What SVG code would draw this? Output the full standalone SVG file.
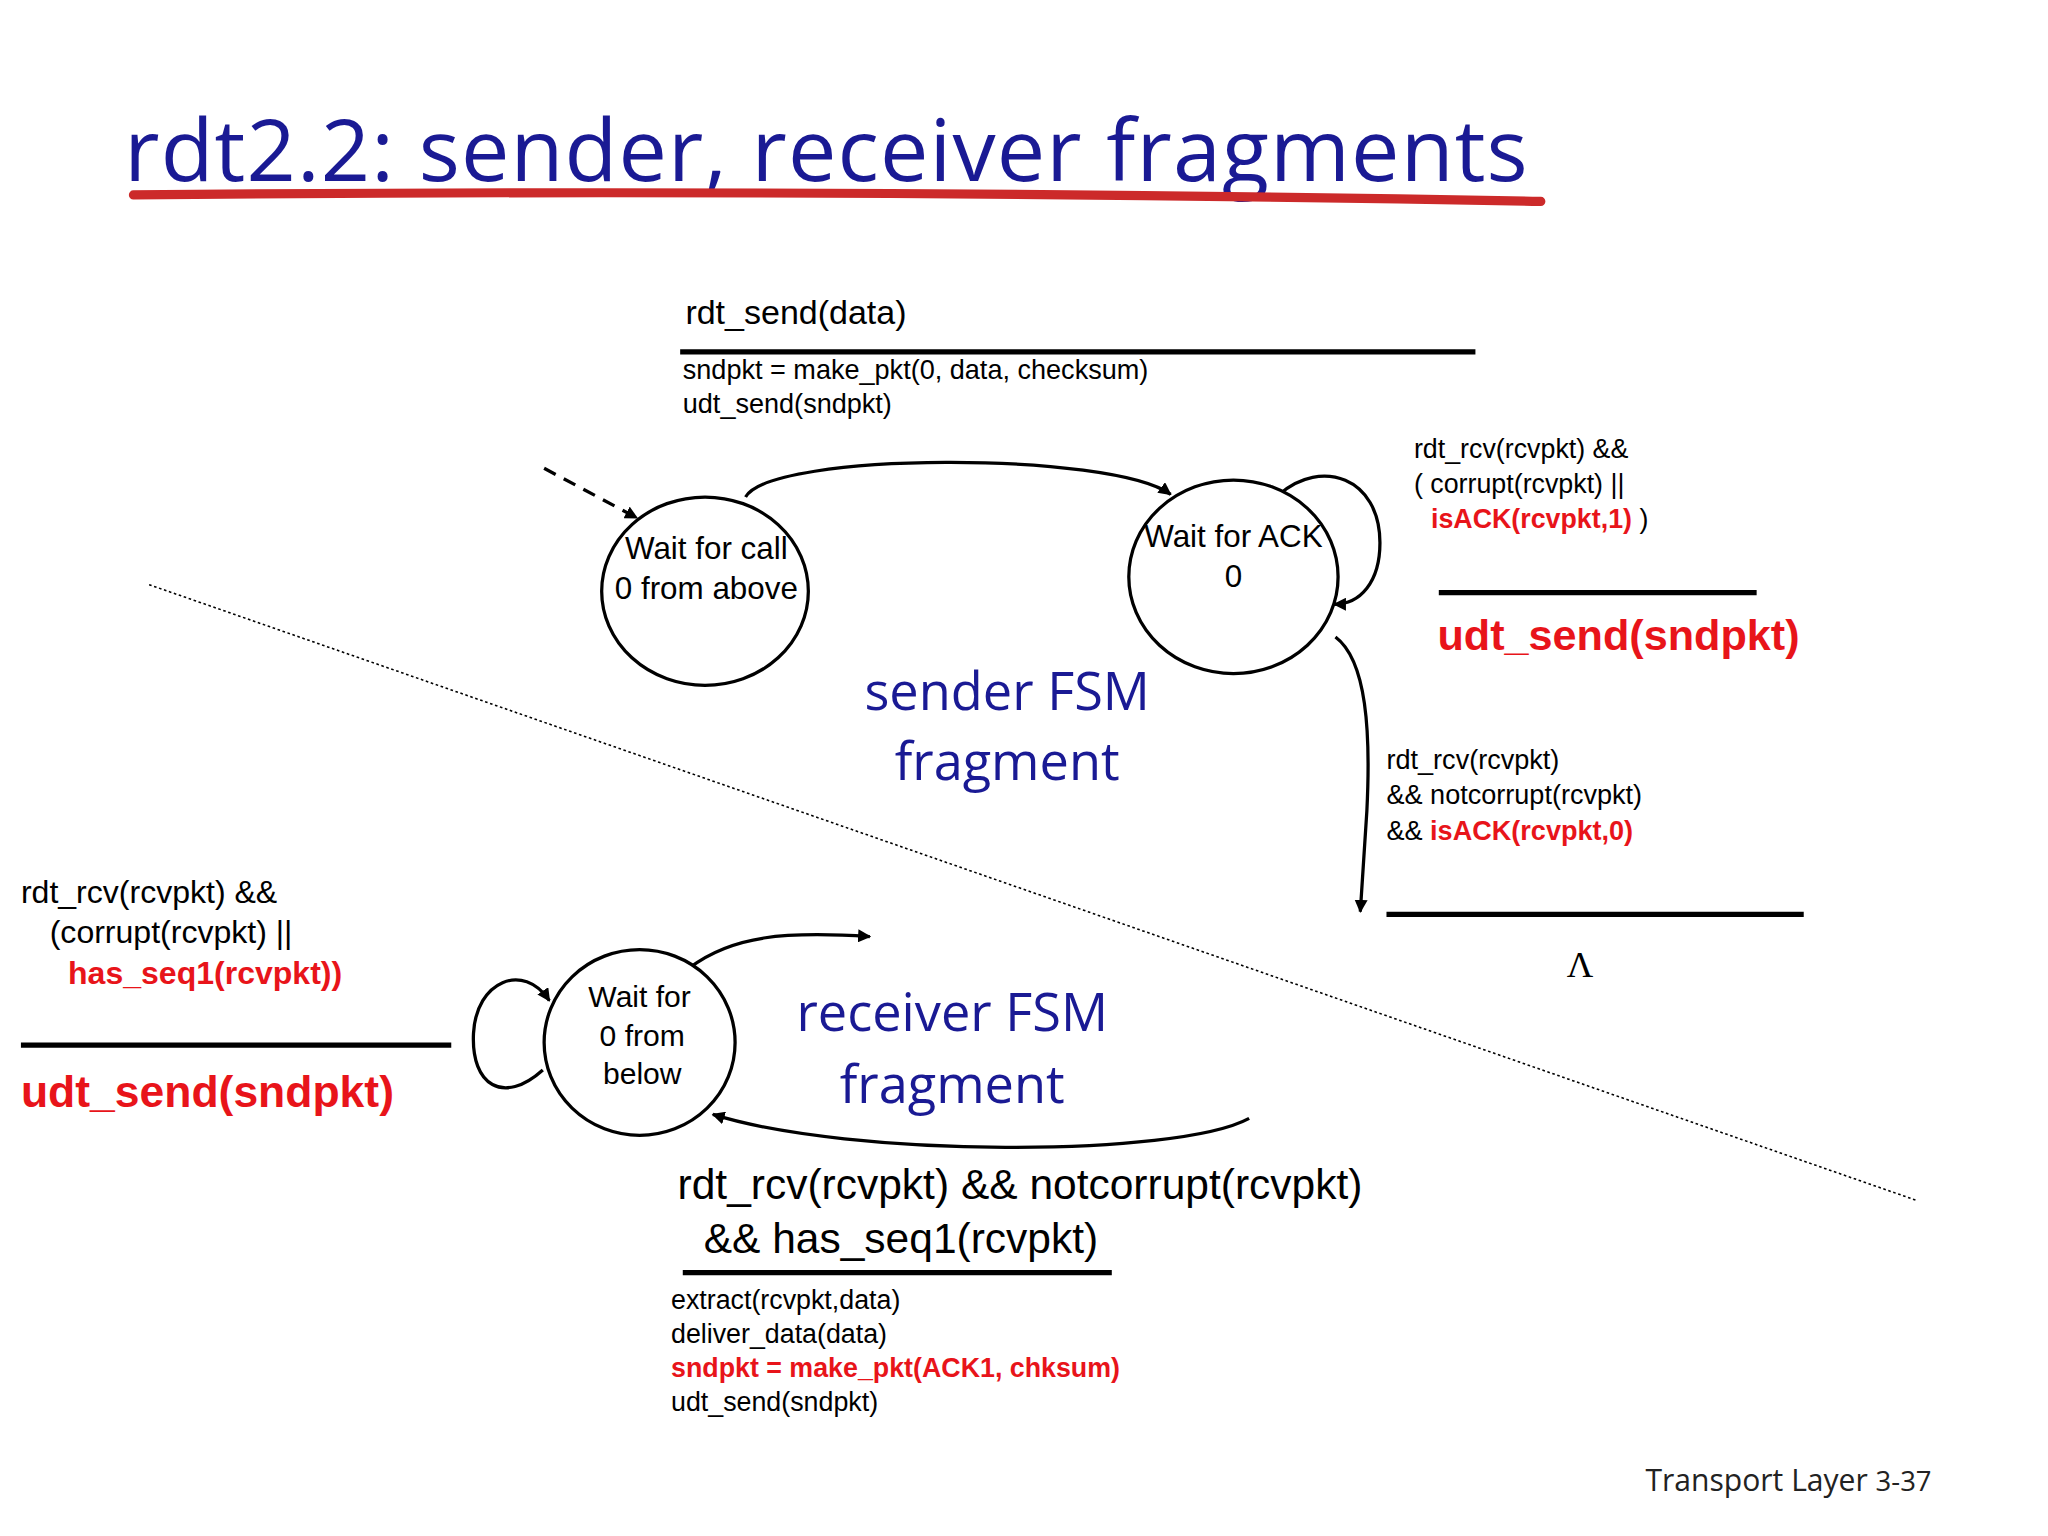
<svg xmlns="http://www.w3.org/2000/svg" width="2048" height="1536" viewBox="0 0 2048 1536">
<defs>
<marker id="ah" markerWidth="10" markerHeight="10" refX="9" refY="5" orient="auto" markerUnits="userSpaceOnUse"><path d="M0,0 L10,5 L0,10 z" fill="#000"/></marker>
<style>
.t{font-family:"Liberation Sans",Arial,sans-serif;fill:#000}
.r{fill:#e8141a;font-weight:bold}
.b{font-family:"Open Sans","Noto Sans",sans-serif;fill:#1a1a94}
.st{fill:#fff;stroke:#000;stroke-width:2.5}
.bar{stroke:#000;stroke-width:4}
.c{fill:none;stroke:#000;stroke-width:2.5}
</style>
</defs>
<rect width="2048" height="1536" fill="#fff"/>
<g transform="scale(1.308)">
<g id="title">
<text class="b" x="95" y="138" font-size="66" textLength="1073">rdt2.2: sender, receiver fragments</text>
<path d="M102,149 Q640,144 1178,154" stroke="#cc2a2a" stroke-width="7" fill="none" stroke-linecap="round"/>
</g>
<line x1="114" y1="447" x2="1466" y2="918" stroke="#000" stroke-width="1.2" stroke-dasharray="2,2"/>
<g id="connectors">
<line x1="416" y1="358" x2="487" y2="396" class="c" stroke-dasharray="10,7" marker-end="url(#ah)"/>
<path d="M570,380 C590,345 850,345 895,378" class="c" marker-end="url(#ah)"/>
<path d="M978,378 C1010,350 1055,365 1055,415 C1055,445 1040,462 1020,462" class="c" marker-end="url(#ah)"/>
<path d="M1021,487 C1045,505 1048,560 1045,620 L1040,697" class="c" marker-end="url(#ah)"/>
<path d="M415,818 C385,845 360,830 362,790 C364,750 400,735 420,765" class="c" marker-end="url(#ah)"/>
<path d="M527,740 C560,715 600,712 665,716" class="c" marker-end="url(#ah)"/>
<path d="M955,855 C900,885 650,885 545,852" class="c" marker-end="url(#ah)"/>
</g>
<g id="s1"><ellipse class="st" cx="539" cy="452" rx="79" ry="72"/>
<text class="t" x="540" y="427" font-size="24" text-anchor="middle">Wait for call</text>
<text class="t" x="540" y="458" font-size="24" text-anchor="middle">0 from above</text></g>
<g id="s2"><ellipse class="st" cx="943" cy="441" rx="80" ry="74"/>
<text class="t" x="943" y="418" font-size="24" text-anchor="middle">Wait for ACK</text>
<text class="t" x="943" y="449" font-size="24" text-anchor="middle">0</text></g>
<g id="s3"><ellipse class="st" cx="489" cy="797" rx="73" ry="71"/>
<text class="t" x="489" y="770" font-size="23" text-anchor="middle">Wait for</text>
<text class="t" x="491" y="800" font-size="23" text-anchor="middle">0 from</text>
<text class="t" x="491" y="829" font-size="23" text-anchor="middle">below</text></g>
<g id="labels">
<text class="t" x="524" y="248" font-size="26">rdt_send(data)</text>
<line class="bar" x1="520" y1="269" x2="1128" y2="269"/>
<text class="t" x="522" y="290" font-size="20.7">sndpkt = make_pkt(0, data, checksum)</text>
<text class="t" x="522" y="316" font-size="20.7">udt_send(sndpkt)</text>
<text class="t" x="1081" y="350" font-size="20.5">rdt_rcv(rcvpkt) &amp;&amp;</text>
<text class="t" x="1081" y="377" font-size="20.5">( corrupt(rcvpkt) ||</text>
<text class="t" x="1094" y="404" font-size="20.5"><tspan class="r">isACK(rcvpkt,1)</tspan> )</text>
<line class="bar" x1="1100" y1="453" x2="1343" y2="453"/>
<text class="t r" x="1099" y="497" font-size="33">udt_send(sndpkt)</text>
<text class="t" x="1060" y="588" font-size="20.7">rdt_rcv(rcvpkt)</text>
<text class="t" x="1060" y="615" font-size="20.7">&amp;&amp; notcorrupt(rcvpkt)</text>
<text class="t" x="1060" y="642" font-size="20.7">&amp;&amp; <tspan class="r">isACK(rcvpkt,0)</tspan></text>
<line class="bar" x1="1060" y1="699" x2="1379" y2="699"/>
<text x="1208" y="747" font-size="28" text-anchor="middle" font-family="Liberation Serif,serif">Λ</text>
<text class="b" x="770" y="543" font-size="40" text-anchor="middle">sender FSM</text>
<text class="b" x="770" y="596" font-size="40" text-anchor="middle">fragment</text>
<text class="b" x="728" y="788" font-size="40" text-anchor="middle">receiver FSM</text>
<text class="b" x="728" y="843" font-size="40" text-anchor="middle">fragment</text>
<text class="t" x="16" y="690" font-size="24.5">rdt_rcv(rcvpkt) &amp;&amp;</text>
<text class="t" x="38" y="721" font-size="24.5">(corrupt(rcvpkt) ||</text>
<text class="t r" x="52" y="752" font-size="24.5">has_seq1(rcvpkt))</text>
<line class="bar" x1="16" y1="799" x2="345" y2="799"/>
<text class="t r" x="16" y="846" font-size="34">udt_send(sndpkt)</text>
<text class="t" x="518" y="917" font-size="32.5">rdt_rcv(rcvpkt) &amp;&amp; notcorrupt(rcvpkt)</text>
<text class="t" x="538" y="958" font-size="32.5">&amp;&amp; has_seq1(rcvpkt)</text>
<line class="bar" x1="522" y1="973" x2="850" y2="973"/>
<text class="t" x="513" y="1001" font-size="20.5">extract(rcvpkt,data)</text>
<text class="t" x="513" y="1027" font-size="20.5">deliver_data(data)</text>
<text class="t r" x="513" y="1053" font-size="20.5">sndpkt = make_pkt(ACK1, chksum)</text>
<text class="t" x="513" y="1079" font-size="20.5">udt_send(sndpkt)</text>
<text x="1258" y="1140" font-size="23" font-family="Open Sans,sans-serif" fill="#222">Transport Layer <tspan font-size="21">3-37</tspan></text>
</g>
</g>
</svg>
